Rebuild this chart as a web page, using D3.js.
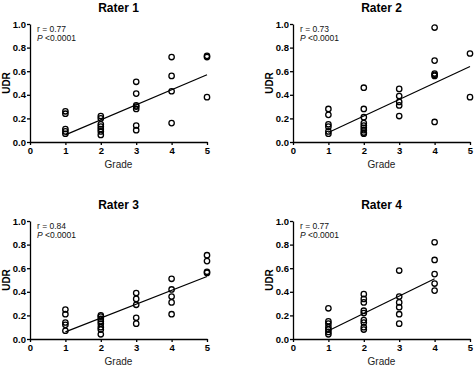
<!DOCTYPE html>
<html>
<head>
<meta charset="utf-8">
<script src="https://cdn.jsdelivr.net/npm/d3@7"></script>
<style>
  body { margin: 0; background: #fff; }
  svg { display: block; font-family: Arial, "Liberation Sans", sans-serif; }
</style>
</head>
<body>
<div id="chart"></div>
<script>
const grades = [1, 2, 3, 4, 5]
const xTicks = [0, 1, 2, 3, 4, 5]
const yTicks = [0, 0.2, 0.4, 0.6, 0.8, 1.0]

// UDR values per grade (index 0 = grade 1)
const rater1 = [
  [0.26, 0.24, 0.11, 0.09, 0.07],
  [0.22, 0.20, 0.15, 0.13, 0.11, 0.09, 0.06],
  [0.51, 0.41, 0.31, 0.30, 0.28, 0.14, 0.10],
  [0.72, 0.56, 0.43, 0.16],
  [0.73, 0.72, 0.38]
]
const rater2 = [
  [0.28, 0.23, 0.15, 0.13, 0.09, 0.07],
  [0.46, 0.28, 0.21, 0.16, 0.14, 0.12, 0.10, 0.08, 0.07],
  [0.45, 0.39, 0.34, 0.31, 0.22],
  [0.97, 0.69, 0.58, 0.57, 0.56, 0.17],
  [0.75, 0.38]
]
const rater3 = [
  [0.25, 0.21, 0.14, 0.12, 0.07],
  [0.20, 0.19, 0.17, 0.15, 0.13, 0.10, 0.08, 0.04],
  [0.39, 0.34, 0.29, 0.18, 0.13],
  [0.51, 0.42, 0.36, 0.31, 0.21],
  [0.71, 0.66, 0.57, 0.56]
]
const rater4 = [
  [0.26, 0.15, 0.13, 0.10, 0.08, 0.06, 0.04],
  [0.38, 0.34, 0.31, 0.24, 0.22, 0.16, 0.14, 0.10, 0.08],
  [0.58, 0.36, 0.31, 0.27, 0.21, 0.13],
  [0.82, 0.67, 0.55, 0.47, 0.41],
  []
]

const raterNames = ['Rater 1', 'Rater 2', 'Rater 3', 'Rater 4']
const rValues = ['0.77', '0.73', '0.84', '0.77']
// regression line: [grade, UDR] at each end
const fitStart = [[1, 0.06], [1, 0.08], [1, 0.06], [1, 0.07]]
const fitEnd = [[5, 0.57], [5, 0.64], [5, 0.53], [4, 0.51]]

const width = 474
const height = 366

const panels = [
  { data: rater1, left: 30, top: 24 },
  { data: rater2, left: 293, top: 24 },
  { data: rater3, left: 30, top: 221 },
  { data: rater4, left: 293, top: 221 }
]
const plotW = 177
const plotH = 118

const svg = d3.select('#chart').append('svg')
  .attr('width', width)
  .attr('height', height)

panels.forEach((p, i) => {
  const g = svg.append('g').attr('transform', `translate(${p.left},${p.top})`)
  const x = d3.scaleLinear().domain([0, 5]).range([0, plotW])
  const y = d3.scaleLinear().domain([0, 1]).range([plotH, 0])

  const yAxis = g.append('g')
    .call(d3.axisLeft(y).tickValues(yTicks).tickFormat(d3.format('.1f')).tickSize(3).tickSizeOuter(0).tickPadding(1))
  const xAxis = g.append('g')
    .attr('transform', `translate(0,${plotH})`)
    .call(d3.axisBottom(x).tickValues(xTicks).tickFormat(d3.format('d')).tickSize(3).tickSizeOuter(0).tickPadding(2.5))

  ;[xAxis, yAxis].forEach(a => {
    a.select('.domain').attr('stroke', '#000').attr('stroke-width', 1.3)
    a.selectAll('.tick line').attr('stroke', '#000').attr('stroke-width', 1.3)
    a.selectAll('.tick text')
      .attr('fill', '#000')
      .style('font-size', '9.5px')
      .style('font-weight', 'bold')
  })

  // points
  const pts = []
  p.data.forEach((vals, gi) => vals.forEach(v => pts.push([grades[gi], v])))
  g.selectAll('circle.pt').data(pts).enter().append('circle')
    .attr('class', 'pt')
    .attr('cx', d => x(d[0]))
    .attr('cy', d => y(d[1]))
    .attr('r', 2.7)
    .attr('fill', 'none')
    .attr('stroke', '#000')
    .attr('stroke-width', 1.3)

  // fit line
  g.append('line')
    .attr('x1', x(fitStart[i][0])).attr('y1', y(fitStart[i][1]))
    .attr('x2', x(fitEnd[i][0])).attr('y2', y(fitEnd[i][1]))
    .attr('stroke', '#000')
    .attr('stroke-width', 1.2)

  // title
  g.append('text')
    .attr('x', plotW / 2).attr('y', -12)
    .attr('text-anchor', 'middle')
    .style('font-size', '12px').style('font-weight', 'bold')
    .text(raterNames[i])

  // axis labels
  g.append('text')
    .attr('x', plotW / 2).attr('y', plotH + 26)
    .attr('text-anchor', 'middle')
    .style('font-size', '10px')
    .attr('fill', '#222')
    .text('Grade')
  g.append('text')
    .attr('transform', `translate(-20.5,${plotH / 2}) rotate(-90)`)
    .attr('text-anchor', 'middle')
    .style('font-size', '10px').style('font-weight', 'bold')
    .text('UDR')

  // stats
  g.append('text')
    .attr('x', 7).attr('y', 8)
    .style('font-size', '8.5px')
    .attr('fill', '#111')
    .text(`r = ${rValues[i]}`)
  const pt = g.append('text')
    .attr('x', 7).attr('y', 17)
    .style('font-size', '8.5px')
    .attr('fill', '#111')
  pt.append('tspan').style('font-style', 'italic').text('P')
  pt.append('tspan').text(' <0.0001')
})
</script>
</body>
</html>
